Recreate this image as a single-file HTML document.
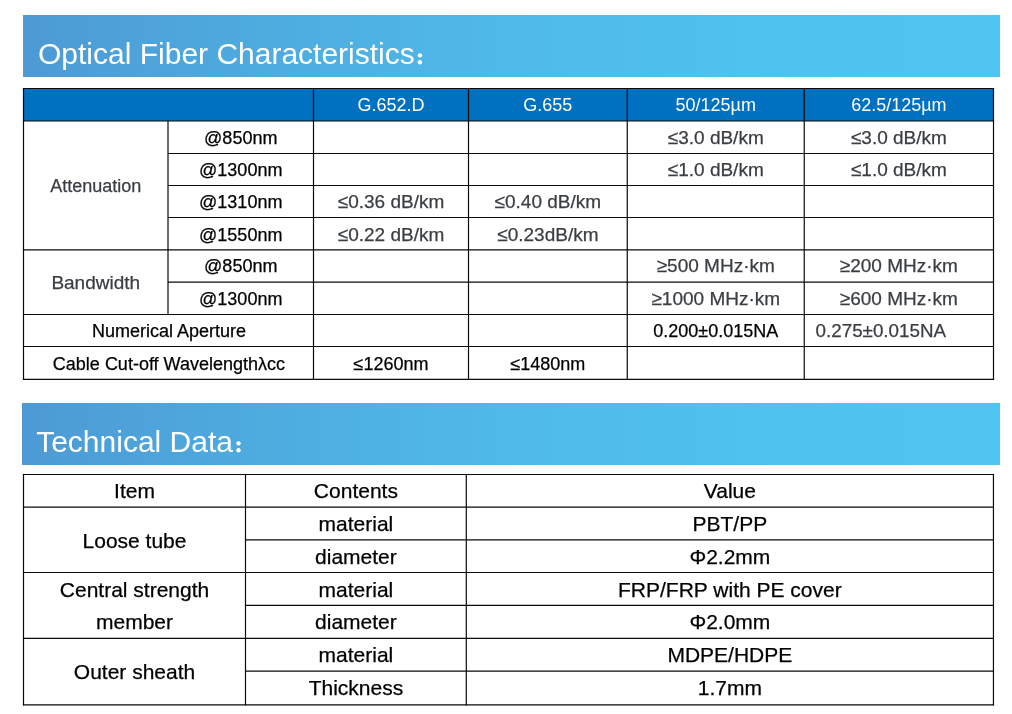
<!DOCTYPE html>
<html><head><meta charset="utf-8"><title>Optical Fiber Characteristics</title>
<style>
html,body{margin:0;padding:0;background:#fff;}
body{width:1012px;height:714px;position:relative;overflow:hidden;font-family:"Liberation Sans",sans-serif;}
#txt{position:absolute;left:0;top:0;width:1012px;height:714px;will-change:transform;}
.t{position:absolute;white-space:nowrap;-webkit-text-stroke:0.25px;font-family:"Liberation Sans",sans-serif;}
.hdr{position:absolute;background:#0070c0;}
.banner{position:absolute;background:linear-gradient(90deg,#4d9ad5 0%,#4eacdf 25%,#4fbaea 50%,#4fc2ef 75%,#50c5f1 100%);}
svg{position:absolute;left:0;top:0;}
</style></head><body>
<div class="banner" style="left:23px;top:15px;width:977px;height:62px"></div>
<div class="banner" style="left:22px;top:403px;width:978px;height:62px"></div>
<div class="hdr" style="left:23px;top:88px;width:971px;height:33px"></div>
<svg width="1012" height="714" viewBox="0 0 1012 714">
<circle cx="419.9" cy="55.35" r="2.2" fill="#fff"/>
<circle cx="419.9" cy="62.25" r="2.2" fill="#fff"/>
<circle cx="238.5" cy="443.37" r="2.2" fill="#fff"/>
<circle cx="238.5" cy="450.27" r="2.2" fill="#fff"/>
<line x1="22.9" y1="88.5" x2="994.1" y2="88.5" stroke="#0a0a0a" stroke-width="1.2"/>
<line x1="22.9" y1="121.0" x2="994.1" y2="121.0" stroke="#0a0a0a" stroke-width="1.2"/>
<line x1="168.0" y1="153.5" x2="994.1" y2="153.5" stroke="#0a0a0a" stroke-width="1.2"/>
<line x1="168.0" y1="185.5" x2="994.1" y2="185.5" stroke="#0a0a0a" stroke-width="1.2"/>
<line x1="168.0" y1="217.5" x2="994.1" y2="217.5" stroke="#0a0a0a" stroke-width="1.2"/>
<line x1="168.0" y1="282.1" x2="994.1" y2="282.1" stroke="#0a0a0a" stroke-width="1.2"/>
<line x1="22.9" y1="249.9" x2="994.1" y2="249.9" stroke="#0a0a0a" stroke-width="1.2"/>
<line x1="22.9" y1="314.5" x2="994.1" y2="314.5" stroke="#0a0a0a" stroke-width="1.2"/>
<line x1="22.9" y1="346.5" x2="994.1" y2="346.5" stroke="#0a0a0a" stroke-width="1.2"/>
<line x1="22.9" y1="379.45" x2="994.1" y2="379.45" stroke="#0a0a0a" stroke-width="1.2"/>
<line x1="23.5" y1="87.9" x2="23.5" y2="380.05" stroke="#0a0a0a" stroke-width="1.2"/>
<line x1="993.5" y1="87.9" x2="993.5" y2="380.05" stroke="#0a0a0a" stroke-width="1.2"/>
<line x1="168.0" y1="121.0" x2="168.0" y2="314.5" stroke="#0a0a0a" stroke-width="1.2"/>
<line x1="313.5" y1="87.9" x2="313.5" y2="380.05" stroke="#0a0a0a" stroke-width="1.2"/>
<line x1="468.5" y1="87.9" x2="468.5" y2="380.05" stroke="#0a0a0a" stroke-width="1.2"/>
<line x1="627.25" y1="87.9" x2="627.25" y2="380.05" stroke="#0a0a0a" stroke-width="1.2"/>
<line x1="804.25" y1="87.9" x2="804.25" y2="380.05" stroke="#0a0a0a" stroke-width="1.2"/>
<line x1="22.9" y1="474.5" x2="994.0500000000001" y2="474.5" stroke="#0a0a0a" stroke-width="1.2"/>
<line x1="22.9" y1="507.05" x2="994.0500000000001" y2="507.05" stroke="#0a0a0a" stroke-width="1.2"/>
<line x1="22.9" y1="572.5" x2="994.0500000000001" y2="572.5" stroke="#0a0a0a" stroke-width="1.2"/>
<line x1="22.9" y1="638.3" x2="994.0500000000001" y2="638.3" stroke="#0a0a0a" stroke-width="1.2"/>
<line x1="22.9" y1="704.85" x2="994.0500000000001" y2="704.85" stroke="#0a0a0a" stroke-width="1.2"/>
<line x1="245.5" y1="539.85" x2="994.0500000000001" y2="539.85" stroke="#0a0a0a" stroke-width="1.2"/>
<line x1="245.5" y1="605.45" x2="994.0500000000001" y2="605.45" stroke="#0a0a0a" stroke-width="1.2"/>
<line x1="245.5" y1="671.1" x2="994.0500000000001" y2="671.1" stroke="#0a0a0a" stroke-width="1.2"/>
<line x1="23.5" y1="473.9" x2="23.5" y2="705.45" stroke="#0a0a0a" stroke-width="1.2"/>
<line x1="245.5" y1="473.9" x2="245.5" y2="705.45" stroke="#0a0a0a" stroke-width="1.2"/>
<line x1="466.3" y1="473.9" x2="466.3" y2="705.45" stroke="#0a0a0a" stroke-width="1.2"/>
<line x1="993.45" y1="473.9" x2="993.45" y2="705.45" stroke="#0a0a0a" stroke-width="1.2"/>
</svg>
<div id="txt">
<div class="t" style="top:37px;font-size:30px;line-height:33px;color:#fff;-webkit-text-stroke:0;left:38.0px;text-align:left;">Optical Fiber Characteristics</div>
<div class="t" style="top:425px;font-size:30px;line-height:33px;color:#fff;-webkit-text-stroke:0;left:36.2px;text-align:left;">Technical Data</div>
<div class="t" style="top:95px;font-size:18px;line-height:20px;color:#fff;-webkit-text-stroke:0;left:91.00px;width:600px;text-align:center;">G.652.D</div>
<div class="t" style="top:95px;font-size:18px;line-height:20px;color:#fff;-webkit-text-stroke:0;left:247.88px;width:600px;text-align:center;">G.655</div>
<div class="t" style="top:95px;font-size:18px;line-height:20px;color:#fff;-webkit-text-stroke:0;left:415.75px;width:600px;text-align:center;">50/125µm</div>
<div class="t" style="top:95px;font-size:18px;line-height:20px;color:#fff;-webkit-text-stroke:0;left:598.88px;width:600px;text-align:center;">62.5/125µm</div>
<div class="t" style="top:176px;font-size:18px;line-height:20px;color:#3a3e42;left:-204.25px;width:600px;text-align:center;">Attenuation</div>
<div class="t" style="top:272px;font-size:19px;line-height:21px;color:#3a3e42;left:-204.25px;width:600px;text-align:center;">Bandwidth</div>
<div class="t" style="top:128px;font-size:18px;line-height:20px;color:#000;left:-59.25px;width:600px;text-align:center;">@850nm</div>
<div class="t" style="top:160px;font-size:18px;line-height:20px;color:#000;left:-59.25px;width:600px;text-align:center;">@1300nm</div>
<div class="t" style="top:192px;font-size:18px;line-height:20px;color:#000;left:-59.25px;width:600px;text-align:center;">@1310nm</div>
<div class="t" style="top:225px;font-size:18px;line-height:20px;color:#000;left:-59.25px;width:600px;text-align:center;">@1550nm</div>
<div class="t" style="top:256px;font-size:18px;line-height:20px;color:#000;left:-59.25px;width:600px;text-align:center;">@850nm</div>
<div class="t" style="top:289px;font-size:18px;line-height:20px;color:#000;left:-59.25px;width:600px;text-align:center;">@1300nm</div>
<div class="t" style="top:127px;font-size:19px;line-height:21px;color:#3a3e42;left:415.75px;width:600px;text-align:center;">≤3.0 dB/km</div>
<div class="t" style="top:127px;font-size:19px;line-height:21px;color:#3a3e42;left:598.88px;width:600px;text-align:center;">≤3.0 dB/km</div>
<div class="t" style="top:159px;font-size:19px;line-height:21px;color:#3a3e42;left:415.75px;width:600px;text-align:center;">≤1.0 dB/km</div>
<div class="t" style="top:159px;font-size:19px;line-height:21px;color:#3a3e42;left:598.88px;width:600px;text-align:center;">≤1.0 dB/km</div>
<div class="t" style="top:191px;font-size:19px;line-height:21px;color:#3a3e42;left:91.00px;width:600px;text-align:center;">≤0.36 dB/km</div>
<div class="t" style="top:191px;font-size:19px;line-height:21px;color:#3a3e42;left:247.88px;width:600px;text-align:center;">≤0.40 dB/km</div>
<div class="t" style="top:224px;font-size:19px;line-height:21px;color:#3a3e42;left:91.00px;width:600px;text-align:center;">≤0.22 dB/km</div>
<div class="t" style="top:224px;font-size:19px;line-height:21px;color:#3a3e42;left:247.88px;width:600px;text-align:center;">≤0.23dB/km</div>
<div class="t" style="top:255px;font-size:19px;line-height:21px;color:#3a3e42;left:415.75px;width:600px;text-align:center;">≥500 MHz·km</div>
<div class="t" style="top:255px;font-size:19px;line-height:21px;color:#3a3e42;left:598.88px;width:600px;text-align:center;">≥200 MHz·km</div>
<div class="t" style="top:288px;font-size:19px;line-height:21px;color:#3a3e42;left:415.75px;width:600px;text-align:center;">≥1000 MHz·km</div>
<div class="t" style="top:288px;font-size:19px;line-height:21px;color:#3a3e42;left:598.88px;width:600px;text-align:center;">≥600 MHz·km</div>
<div class="t" style="top:321px;font-size:18px;line-height:20px;color:#000;left:-131.00px;width:600px;text-align:center;">Numerical Aperture</div>
<div class="t" style="top:321px;font-size:18px;line-height:20px;color:#000;left:415.75px;width:600px;text-align:center;">0.200±0.015NA</div>
<div class="t" style="top:320px;font-size:18.8px;line-height:21px;color:#3a3e42;left:815.6px;text-align:left;">0.275±0.015NA</div>
<div class="t" style="top:354px;font-size:18px;line-height:20px;color:#000;left:-131.10px;width:600px;text-align:center;">Cable Cut-off Wavelengthλcc</div>
<div class="t" style="top:354px;font-size:18px;line-height:20px;color:#000;left:91.00px;width:600px;text-align:center;">≤1260nm</div>
<div class="t" style="top:354px;font-size:18px;line-height:20px;color:#000;left:247.88px;width:600px;text-align:center;">≤1480nm</div>
<div class="t" style="top:479px;font-size:21px;line-height:23px;color:#000;left:-165.50px;width:600px;text-align:center;">Item</div>
<div class="t" style="top:479px;font-size:21px;line-height:23px;color:#000;left:55.90px;width:600px;text-align:center;">Contents</div>
<div class="t" style="top:479px;font-size:21px;line-height:23px;color:#000;left:429.88px;width:600px;text-align:center;">Value</div>
<div class="t" style="top:529px;font-size:21px;line-height:23px;color:#000;left:-165.50px;width:600px;text-align:center;">Loose tube</div>
<div class="t" style="top:578px;font-size:21px;line-height:23px;color:#000;left:-165.50px;width:600px;text-align:center;">Central strength</div>
<div class="t" style="top:610px;font-size:21px;line-height:23px;color:#000;left:-165.50px;width:600px;text-align:center;">member</div>
<div class="t" style="top:660px;font-size:21px;line-height:23px;color:#000;left:-165.50px;width:600px;text-align:center;">Outer sheath</div>
<div class="t" style="top:512px;font-size:21px;line-height:23px;color:#000;left:55.90px;width:600px;text-align:center;">material</div>
<div class="t" style="top:545px;font-size:21px;line-height:23px;color:#000;left:55.90px;width:600px;text-align:center;">diameter</div>
<div class="t" style="top:578px;font-size:21px;line-height:23px;color:#000;left:55.90px;width:600px;text-align:center;">material</div>
<div class="t" style="top:610px;font-size:21px;line-height:23px;color:#000;left:55.90px;width:600px;text-align:center;">diameter</div>
<div class="t" style="top:643px;font-size:21px;line-height:23px;color:#000;left:55.90px;width:600px;text-align:center;">material</div>
<div class="t" style="top:676px;font-size:21px;line-height:23px;color:#000;left:55.90px;width:600px;text-align:center;">Thickness</div>
<div class="t" style="top:512px;font-size:21px;line-height:23px;color:#000;left:429.88px;width:600px;text-align:center;">PBT/PP</div>
<div class="t" style="top:545px;font-size:21px;line-height:23px;color:#000;left:429.88px;width:600px;text-align:center;">Φ2.2mm</div>
<div class="t" style="top:578px;font-size:21px;line-height:23px;color:#000;left:429.88px;width:600px;text-align:center;">FRP/FRP with PE cover</div>
<div class="t" style="top:610px;font-size:21px;line-height:23px;color:#000;left:429.88px;width:600px;text-align:center;">Φ2.0mm</div>
<div class="t" style="top:643px;font-size:21px;line-height:23px;color:#000;left:429.88px;width:600px;text-align:center;">MDPE/HDPE</div>
<div class="t" style="top:676px;font-size:21px;line-height:23px;color:#000;left:429.88px;width:600px;text-align:center;">1.7mm</div>
</div>
</body></html>
